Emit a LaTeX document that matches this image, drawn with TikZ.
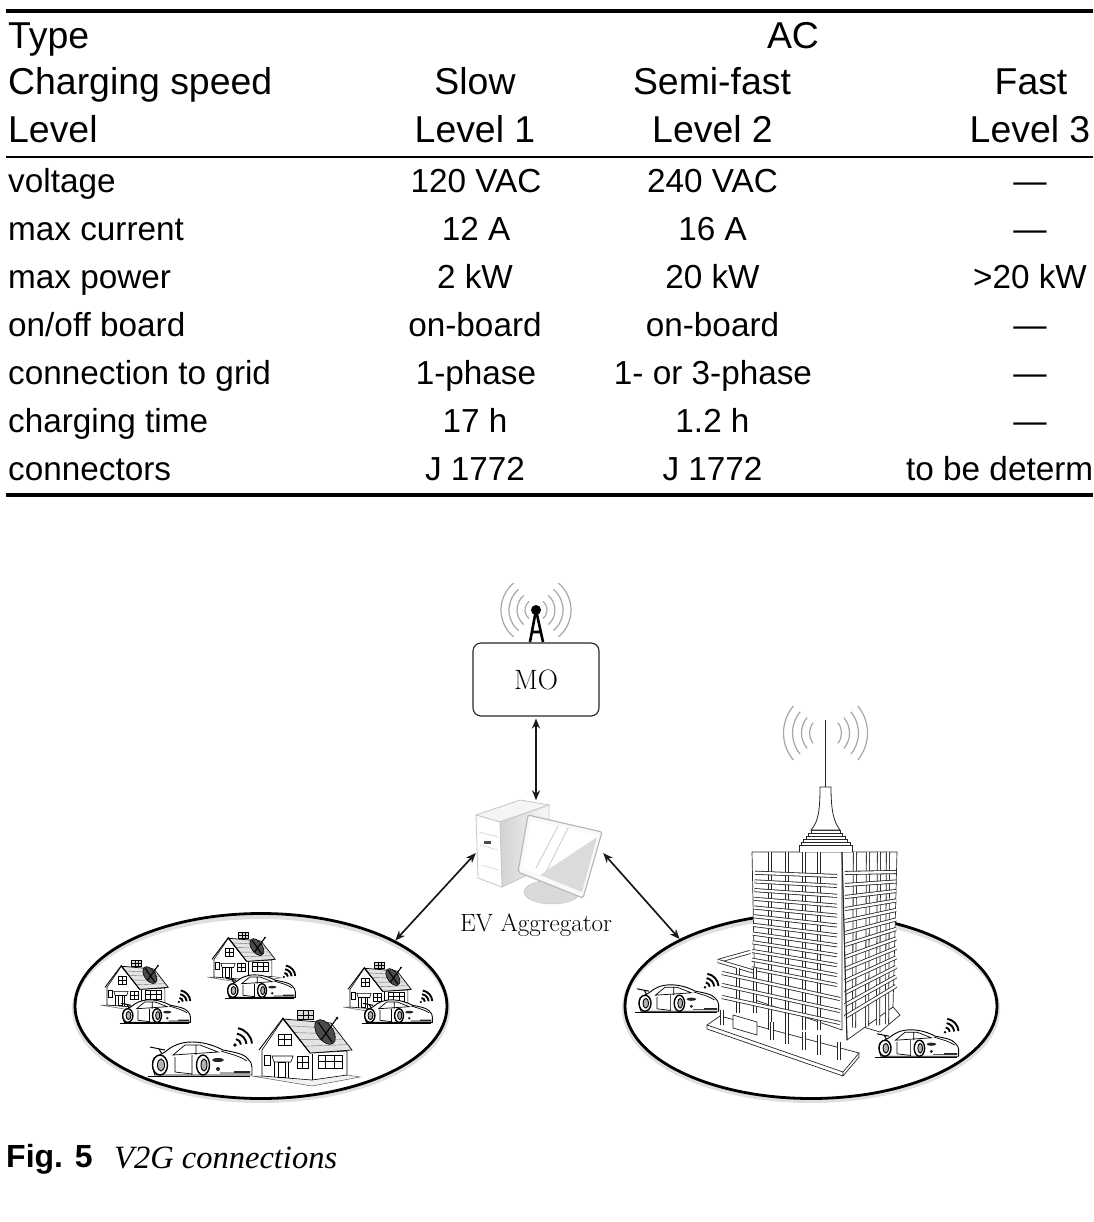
\documentclass[tikz,border=0pt]{standalone}
\usepackage{fontspec}
\setmainfont{Liberation Sans}
\newfontfamily\capserif{Liberation Serif}
\newfontfamily\figmodern{Latin Modern Roman}
\usetikzlibrary{arrows.meta,shapes.geometric,calc}
\tikzset{
  head/.style={font=\fontsize{37.4}{40}\selectfont, inner sep=0pt, anchor=base},
  body/.style={font=\fontsize{33.3}{36}\selectfont, inner sep=0pt, anchor=base},
  headleft/.style={head, anchor=base west},
  bodyleft/.style={body, anchor=base west},
  link/.style={<->, >={Stealth[length=10pt,width=8pt]}, line width=1.7pt, black!90},
  zone/.style={ellipse, draw=black, line width=2.8pt, inner sep=0pt, minimum width=372pt, minimum height=185pt},
  glow/.style={draw=gray!25, line width=4pt},
  airwave/.style={draw=gray!70, line width=1.2pt},
  bar/.style={draw=black!85, double=white, double distance=2.4pt, line width=.8pt},
  carpic/.pic={
    \draw[line width=1pt] (0,-29) -- (15,-26) (9,-27) -- (12,-22);
    \draw[fill=white, line width=.9pt] (5,-1) .. controls (2,-8) and (2,-15) .. (4,-18) -- (15,-24) .. controls (22,-30) and (30,-34) .. (42,-34) .. controls (55,-34) and (65,-30) .. (73,-26) .. controls (84,-24) and (94,-22) .. (97,-18) .. controls (101,-14) and (102,-12) .. (102,-9) -- (102,-1) -- cycle;
    \draw[line width=.7pt] (23,-21) -- (35,-31) -- (50,-31) -- (68,-24) -- cycle (46,-31) -- (46,-21);
    \draw[line width=.7pt] (25,-19) -- (25,-4) -- (42,-2) (42,-21) -- (42,-1) (71,-25) .. controls (80,-22) and (90,-20) .. (97,-15) (70,-3) -- (100,-3);
    \fill[black!85] (68,-16) ellipse (6 and 2) (68,-7) circle (2) (84,-5) rectangle (100,-3);
    \draw[fill=white, line width=1.4pt] (10,-11) ellipse (7.5 and 10) (53,-11) ellipse (6.5 and 10);
    \draw[fill=black!30, line width=.9pt] (11,-11) ellipse (3.5 and 6) (54,-11) ellipse (3 and 6);
    \draw[line width=.6pt] (-2,0) -- (100,0);
    \fill (85,-31) circle (1.8);
    \foreach \r in {6,11.5,17} \draw[line width=1.9pt] (85,-31) ++(-80:\r) arc[start angle=-80, end angle=-5, radius=\r];
  },
  housepic/.pic={
    \fill[gray!10, draw=black!65, line width=.5pt] (-7,0) -- (53,10) -- (101,1) -- (88,-1) -- (3,0) -- cycle;
    \draw[fill=white, line width=.6pt] (3,-26) -- (3,0) -- (53,4) -- (88,-1) -- (88,-25) -- (51,-23) -- (24,-57) -- cycle;
    \draw[line width=.6pt] (53,-22) -- (53,4);
    \draw[fill=gray!22, line width=.7pt] (24,-57) -- (72,-53) -- (93,-26) -- (51,-23) -- cycle;
    \foreach \t in {.2,.4,.6,.8} \draw[black!55, line width=.4pt] ($(24,-57)!\t!(51,-23)$) -- ($(72,-53)!\t!(93,-26)$);
    \draw[line width=.9pt] (0,-26) -- (24,-58) -- (51,-23);
    \draw[fill=gray!30, line width=.6pt] (38,-66) rectangle (54,-57);
    \draw[line width=.5pt] (38,-61) -- (54,-61) (44,-66) -- (44,-57) (49,-66) -- (49,-57);
    \draw[line width=.7pt] (19,-42) rectangle (32,-31) (25.5,-42) -- (25.5,-31) (19,-36.5) -- (32,-36.5);
    \draw[line width=.7pt] (38,-20) rectangle (49,-8) (43.5,-20) -- (43.5,-8) (38,-14) -- (49,-14);
    \draw[line width=.7pt] (59,-21) rectangle (83,-8) (66,-21) -- (66,-8) (75,-21) -- (75,-8) (59,-15) -- (83,-15);
    \draw[fill=white, line width=.6pt] (13,-20) -- (34,-20) -- (32,-14) -- (15,-14) -- cycle;
    \draw[line width=.6pt] (15,-14) -- (15,1) (29,-14) -- (29,2) (19,-14) rectangle (26,1);
    \draw[line width=.7pt] (5,-21) rectangle (11,-11);
    \draw[fill=black!70, line width=.6pt, rotate around={35:(66,-44)}] (66,-44) ellipse (8 and 14);
    \draw[line width=1.1pt] (59,-54) -- (73,-34) (78,-58) -- (62,-36);
    \fill (78,-58) circle (1.5);
  },
}
\begin{document}
\begin{tikzpicture}[x=1pt,y=-1pt]
  \useasboundingbox (0,0) rectangle (1093,1222);
  % table rules
  \draw[line width=4.5pt] (6,11) -- (1093,11);
  \draw[line width=2pt] (6,157) -- (1093,157);
  \draw[line width=4.5pt] (6,495) -- (1093,495);
  % table head
  \node[headleft] (typeName) at (8,49) {Type};
  \node[head] (typeAc) at (793,49) {AC};
  \node[headleft] (speedName) at (8,95) {Charging speed};
  \node[head] (speedSlow) at (475,95) {Slow};
  \node[head] (speedSemi) at (712,95) {Semi-fast};
  \node[head] (speedFast) at (1031,95) {Fast};
  \node[headleft] (levelName) at (8,143) {Level};
  \node[head] (levelOne) at (475,143) {Level 1};
  \node[head] (levelTwo) at (712.5,143) {Level 2};
  \node[head] (levelThree) at (1030,143) {Level 3};
  % table body
  \node[bodyleft] (voltName) at (8,192.5) {voltage};
  \node[body] (voltOne) at (476,192.5) {120 VAC};
  \node[body] (voltTwo) at (712.5,192.5) {240 VAC};
  \node[body] (voltThree) at (1030,192.5) {—};
  \node[bodyleft] (currName) at (8,240.5) {max current};
  \node[body] (currOne) at (476,240.5) {12 A};
  \node[body] (currTwo) at (712.5,240.5) {16 A};
  \node[body] (currThree) at (1030,240.5) {—};
  \node[bodyleft] (powName) at (8,288) {max power};
  \node[body] (powOne) at (475,288) {2 kW};
  \node[body] (powTwo) at (712.5,288) {20 kW};
  \node[body] (powThree) at (1030,288) {>20 kW};
  \node[bodyleft] (boardName) at (8,336) {on/off board};
  \node[body] (boardOne) at (475,336) {on-board};
  \node[body] (boardTwo) at (712.5,336) {on-board};
  \node[body] (boardThree) at (1030,336) {—};
  \node[bodyleft] (gridName) at (8,384) {connection to grid};
  \node[body] (gridOne) at (476,384) {1-phase};
  \node[body] (gridTwo) at (713,384) {1- or 3-phase};
  \node[body] (gridThree) at (1030,384) {—};
  \node[bodyleft] (timeName) at (8,432) {charging time};
  \node[body] (timeOne) at (475,432) {17 h};
  \node[body] (timeTwo) at (712.5,432) {1.2 h};
  \node[body] (timeThree) at (1030,432) {—};
  \node[bodyleft] (plugName) at (8,480) {connectors};
  \node[body] (plugOne) at (475,480) {J 1772};
  \node[body] (plugTwo) at (712.5,480) {J 1772};
  \node[bodyleft] (plugThree) at (906,480) {to be determ};
  % ellipses
  \draw[glow] (261,1009) ellipse [x radius=187, y radius=92];
  \draw[glow] (811,1009) ellipse [x radius=187, y radius=92];
  \node[zone] (homes) at (261,1006) {};
  \node[zone] (tower) at (811,1006) {};
  % homes
  \pic[scale=.68] at (105,1005) {housepic};
  \pic[scale=.68] at (212,977) {housepic};
  \pic[scale=.68] at (348,1007) {housepic};
  \pic[scale=.68] at (121,1023) {carpic};
  \pic[scale=.68] at (226,998) {carpic};
  \pic[scale=.68] at (363,1023) {carpic};
  \pic at (259,1076) {housepic};
  \pic at (150,1076) {carpic};
  % building
  \fill[white] (752,852) -- (897,852) -- (893,1007) -- (900,1015) -- (880,1032) -- (859,1053) -- (843,1072) -- (707,1025) -- (718,961) -- (754,950) -- cycle;
  \draw[black!85, line width=.7pt, fill=white] (707,1025) -- (843,1072) -- (859,1053) -- (720,1016) -- cycle;
  \draw[black!85, line width=.7pt] (707,1025) -- (707,1029) -- (843,1076) -- (859,1057) -- (859,1053) (843,1072) -- (843,1076);
  \draw[black!85, line width=.7pt, fill=white] (863,1027) -- (880,1032) -- (900,1015) -- (893,1007) -- cycle;
  \draw[black!85, line width=.7pt, fill=white] (752,852) -- (842,852) -- (842,1030) -- (755,1000) -- cycle;
  \draw[black!85, line width=.7pt, fill=white] (842,852) -- (897,852) -- (893,1007) -- (847,1040) -- cycle;
  \foreach \x in {770,787,804,819} \draw[bar] (\x,852) -- (\x,1030);
  \foreach \x in {855,868,879,888} \draw[bar] (\x,852) -- (\x-1,1028-\x*.1+85);
  \foreach \i in {0,...,11} \draw[bar] (755-.3*\i,872.7+8.7*\i) -- (837,876+9.9*\i);
  \foreach \i in {0,...,12} \draw[bar] (845,873+12*\i) -- (896,872+9.5*\i);
  \draw[bar] (718,961) -- (750,952);
  \draw[bar] (718,961) -- (755,972);
  \foreach \x in {738,755} \draw[bar] (\x,968) -- (\x,1013);
  \foreach \y in {973,985,997} \draw[bar] (722,\y) -- (840,\y+26);
  \draw[line width=1pt, black!85] (842,852) -- (847,1040);
  \draw[black!85, line width=.7pt, fill=white] (733,1015) -- (757,1022) -- (757,1035) -- (733,1028) -- cycle;
  \draw[bar] (722,1010) -- (722,1025);
  \draw[bar] (772,1022) -- (772,1040);
  \draw[bar] (787,1027) -- (787,1044);
  \draw[bar] (804,1032) -- (804,1050);
  \draw[bar] (819,1035) -- (819,1055);
  \draw[bar] (839,1042) -- (839,1060);
  % spire
  \draw[black!85, line width=.7pt, fill=white] (799,852) -- (799,845) -- (852,845) -- (852,852);
  \foreach \i in {0,...,4} \draw[black!85, line width=.7pt, fill=white] (801+\i*2.5,845-\i*3) rectangle (850-\i*2.5,842-\i*3);
  \draw[black!85, line width=.8pt, fill=white] (811,830) .. controls (818,822) and (820,812) .. (820,787) -- (831,787) .. controls (831,812) and (834,822) .. (840,830) -- cycle;
  \draw[black!85, line width=1.4pt] (825.5,787) -- (825.5,765);
  \draw[black!85, line width=.7pt] (825.5,765) -- (825.5,720);
  \foreach \r in {16,24,33,42} {
    \draw[airwave] (825.5,733) ++(140:\r) arc[start angle=140, end angle=220, radius=\r];
    \draw[airwave] (825.5,733) ++(-40:\r) arc[start angle=-40, end angle=40, radius=\r];
  }
  \pic[scale=.8] at (637,1012) {carpic};
  \pic[scale=.8] at (877,1057) {carpic};
  % MO box
  \node[draw=black!85, line width=1.1pt, rounded corners=8pt, minimum width=126pt, minimum height=73pt, inner sep=0pt, font=\figmodern\fontsize{28}{30}\selectfont] (mo) at (536,679.5) {MO};
  \foreach \r in {11,19,27,35} {
    \draw[airwave] (536,610) ++(130:\r) arc[start angle=130, end angle=230, radius=\r];
    \draw[airwave] (536,610) ++(-50:\r) arc[start angle=-50, end angle=50, radius=\r];
  }
  \draw[line width=2.6pt] (536,610) -- (530,642) (536,610) -- (543,642) (532,632) -- (541,632);
  \fill (536,610) circle (5);
  % computer
  \node[minimum width=127pt, minimum height=105pt, inner sep=0pt] (pc) at (539.5,853) {};
  \node[font=\figmodern\fontsize{25}{27}\selectfont, inner sep=0pt] (aggName) at (536,925) {EV Aggregator};
  \draw[gray!45, line width=.8pt, fill=gray!8] (476,815) -- (520,800) -- (549,805) -- (500,822) -- cycle;
  \draw[gray!45, line width=.8pt, left color=gray!35, right color=gray!6] (500,822) -- (549,805) -- (549,865) -- (502,887) -- cycle;
  \draw[gray!45, line width=.8pt, fill=white] (476,815) -- (500,822) -- (502,887) -- (478,878) -- cycle;
  \draw[gray!40, line width=.5pt] (479,832) -- (498,837) (480,845) -- (498,850) (481,865) -- (499,870);
  \fill[black!70] (484,841) rectangle (491,844);
  \fill[gray!30, draw=gray!45, line width=.5pt] (552,892) ellipse [x radius=28, y radius=12];
  \draw[gray!55, line width=1.2pt, fill=gray!5, rounded corners=2pt] (528,815) -- (602,832) -- (583,898) -- (518,872) -- cycle;
  \fill[white] (531,820) -- (597,835) -- (582,892) -- (523,868) -- cycle;
  \fill[gray!28] (597,837) -- (582,892) -- (540,875) -- cycle;
  \draw[gray!35, line width=1pt] (558,826) -- (536,868) (568,828) -- (546,872);
  % links
  \coordinate (pcTop) at (mo.south |- pc.north);
  \draw[link, shorten <=2pt] (mo.south) -- (pcTop);
  \draw[link] (pc.west) -- (homes.26);
  \draw[link] (pc.east) -- (tower.153.6);
  % caption
  \node[font=\bfseries\fontsize{32}{34}\selectfont, inner sep=0pt, anchor=base west] (figTag) at (6,1167) {Fig. 5};
  \node[font=\capserif\itshape\fontsize{32.5}{34}\selectfont, inner sep=0pt, anchor=base west] (figText) at (114,1168) {V2G connections};
\end{tikzpicture}
\end{document}
